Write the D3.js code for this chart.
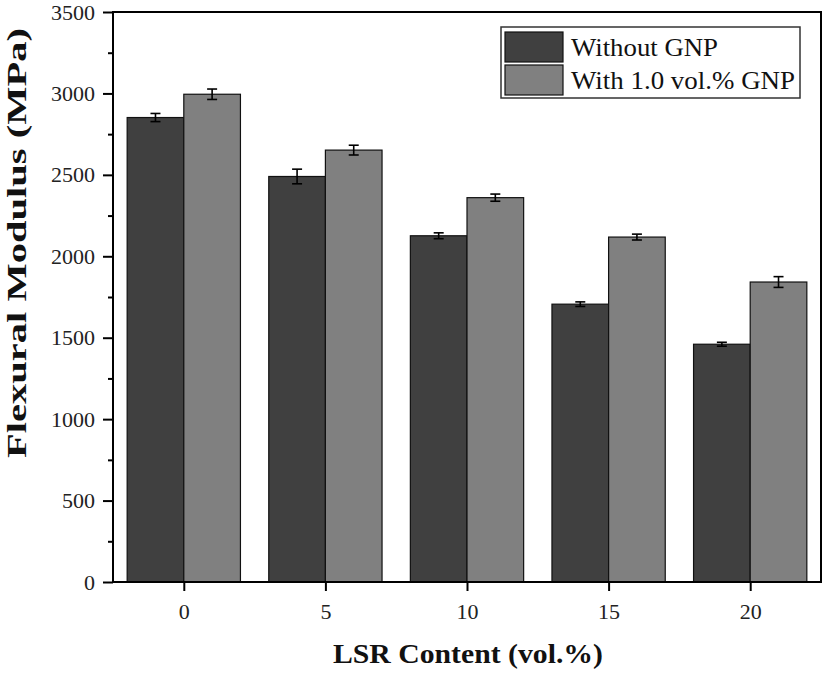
<!DOCTYPE html>
<html><head><meta charset="utf-8">
<script src="https://cdn.jsdelivr.net/npm/d3@7"></script>
<style>body{margin:0;background:#fff}svg{display:block}</style>
</head><body>
<svg id="c" width="825" height="675"></svg>
<script>
const categories = [0, 5, 10, 15, 20];
const seriesNames = ["Without GNP", "With 1.0 vol.% GNP"];
const withoutGNP = [2852, 2490, 2126, 1706, 1460];
const withoutGNPErr = [25, 45, 18, 14, 12];
const withGNP = [2995, 2652, 2360, 2118, 1842];
const withGNPErr = [32, 30, 22, 18, 33];
const yTicks = [0, 500, 1000, 1500, 2000, 2500, 3000, 3500];
const yMinorTicks = [250, 750, 1250, 1750, 2250, 2750, 3250];

const colors = ["#404040", "#808080"];
const svg = d3.select("#c");
const L = 113, R = 821, T = 12, B = 582;
const x = d3.scaleLinear().domain([-2.5, 22.5]).range([L, R]);
const y = d3.scaleLinear().domain([0, 3500]).range([B, T]);
const font = "'Liberation Serif','Times New Roman',serif";

const series = [
  {vals: withoutGNP, errs: withoutGNPErr, off: -2},
  {vals: withGNP, errs: withGNPErr, off: 0}
];
series.forEach((s, si) => {
  const g = svg.append("g");
  g.selectAll("rect").data(categories).join("rect")
    .attr("x", d => x(d + s.off))
    .attr("width", x(2) - x(0))
    .attr("y", (d, i) => y(s.vals[i]))
    .attr("height", (d, i) => y(0) - y(s.vals[i]))
    .attr("fill", colors[si]).attr("stroke", "#111").attr("stroke-width", 1.2);
  const eg = g.selectAll("g.err").data(categories).join("g").attr("class","err")
    .attr("stroke", "#000").attr("stroke-width", 1.6);
  eg.each(function(d, i) {
    const cx = x(d + s.off + 1);
    const e = d3.select(this);
    const y1 = y(s.vals[i] + s.errs[i]), y2 = y(s.vals[i] - s.errs[i]);
    e.append("line").attr("x1", cx).attr("x2", cx).attr("y1", y1).attr("y2", y2);
    e.append("line").attr("x1", cx-5).attr("x2", cx+5).attr("y1", y1).attr("y2", y1);
    e.append("line").attr("x1", cx-5).attr("x2", cx+5).attr("y1", y2).attr("y2", y2);
  });
});

// frame
svg.append("rect").attr("x", L).attr("y", T).attr("width", R-L).attr("height", B-T)
  .attr("fill", "none").attr("stroke", "#000").attr("stroke-width", 2);

// y axis
const ya = svg.append("g").attr("transform", `translate(${L},0)`)
  .call(d3.axisLeft(y).tickValues(yTicks).tickSize(10).tickPadding(8).tickFormat(d3.format("d")));
ya.select(".domain").remove();
ya.selectAll("line").attr("stroke-width", 2);
ya.selectAll("text").attr("font-family", font).attr("font-size", 22).attr("fill", "#222");
const ym = svg.append("g").attr("transform", `translate(${L},0)`)
  .call(d3.axisLeft(y).tickValues(yMinorTicks).tickSize(5).tickFormat(""));
ym.select(".domain").remove();
ym.selectAll("line").attr("stroke-width", 2);

// x axis
const xa = svg.append("g").attr("transform", `translate(0,${B})`)
  .call(d3.axisBottom(x).tickValues(categories).tickSize(9).tickPadding(12).tickFormat(d3.format("d")));
xa.select(".domain").remove();
xa.selectAll("line").attr("stroke-width", 2);
xa.selectAll("text").attr("font-family", font).attr("font-size", 22).attr("fill", "#222");

// titles
svg.append("text").attr("x", 468).attr("y", 663).attr("text-anchor", "middle")
  .attr("font-family", font).attr("font-weight", "bold").attr("font-size", 28).attr("fill", "#111")
  .attr("textLength", 270).attr("lengthAdjust", "spacingAndGlyphs")
  .text("LSR Content (vol.%)");
svg.append("text").attr("transform", `translate(26,243) rotate(-90)`).attr("text-anchor", "middle")
  .attr("font-family", font).attr("font-weight", "bold").attr("font-size", 28).attr("fill", "#111")
  .attr("textLength", 430).attr("lengthAdjust", "spacingAndGlyphs")
  .text("Flexural Modulus (MPa)");

// legend
const legendLens = [147, 224];
const lg = svg.append("g");
lg.append("rect").attr("x", 501).attr("y", 27).attr("width", 299).attr("height", 71)
  .attr("fill", "#fff").attr("stroke", "#333").attr("stroke-width", 1.5);
seriesNames.forEach((n, i) => {
  lg.append("rect").attr("x", 505).attr("y", 32 + i*33).attr("width", 58).attr("height", 30)
    .attr("fill", colors[i]).attr("stroke", "#111").attr("stroke-width", 1.2);
  lg.append("text").attr("x", 571).attr("y", 56 + i*33)
    .attr("font-family", font).attr("font-size", 26).attr("fill", "#111")
    .attr("textLength", legendLens[i]).attr("lengthAdjust", "spacingAndGlyphs").text(n);
});
</script>
</body></html>
